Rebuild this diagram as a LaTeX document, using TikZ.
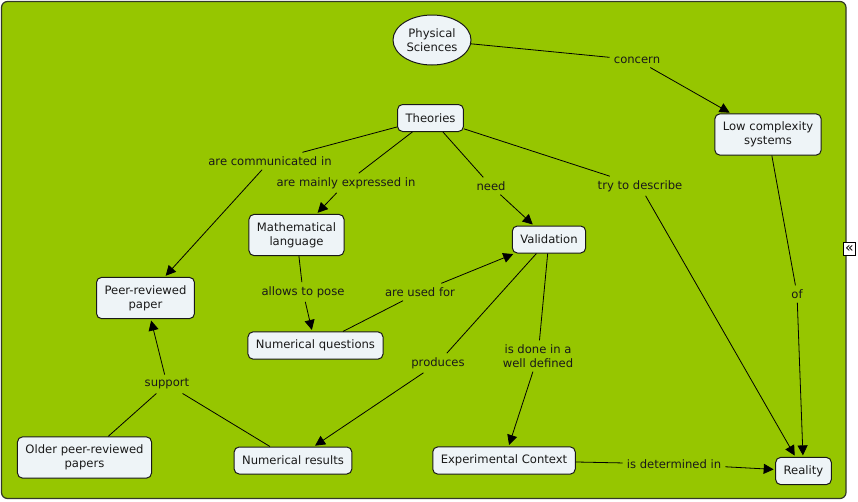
\documentclass[tikz,border=0pt]{standalone}
\usepackage{fontspec}
\setmainfont{DejaVu Sans}
\usetikzlibrary{arrows.meta,shapes.geometric}
\definecolor{mapgreen}{RGB}{150,198,0}
\definecolor{conceptfill}{RGB}{238,244,247}
\definecolor{framegray}{RGB}{50,56,40}
\newcommand{\mapfont}{\fontsize{11.6}{14}\selectfont}

\begin{document}
\begin{tikzpicture}[x=1pt,y=-1pt,
    concept/.style={draw=black!90,line width=1pt,fill=conceptfill,rounded corners=5pt,align=center,
      inner xsep=8pt,inner ysep=8pt,minimum height=27pt,text=black!90,font=\mapfont},
    linkphrase/.style={align=center,inner sep=4pt,text=black!90,font=\mapfont},
    link/.style={draw=black,line width=0.8pt},
    linkto/.style={link,shorten >=1.5pt,-{Triangle[length=10pt,width=10pt]}}]
  \fill[white] (0,0) rectangle (858,501);
  \useasboundingbox (0,0) rectangle (858,501);
  \draw[fill=mapgreen,draw=framegray,line width=1.2pt,rounded corners=6pt] (1.5,1.5) rectangle (846,498.5);

  % concepts
  \node[concept,ellipse,rounded corners=0pt,inner sep=0pt,minimum width=78pt,minimum height=50pt] (physci) at (432,40) {Physical\\Sciences};
  \node[concept] (theories) at (430.5,118) {Theories};
  \node[concept] (lowcomp) at (768,134.5) {Low complexity\\systems};
  \node[concept] (mathlang) at (296.5,235) {Mathematical\\language};
  \node[concept] (valid) at (549,239.5) {Validation};
  \node[concept] (peer) at (145.5,298) {Peer-reviewed\\paper};
  \node[concept] (numq) at (315.5,345.5) {Numerical questions};
  \node[concept] (older) at (84.5,457.5) {Older peer-reviewed\\papers};
  \node[concept] (numres) at (293,460.5) {Numerical results};
  \node[concept] (expctx) at (504,460.5) {Experimental Context};
  \node[concept] (reality) at (803.5,471) {Reality};

  % linking phrases
  \node[linkphrase] (concern) at (637,60) {concern};
  \node[linkphrase] (communicated) at (270,161) {are communicated in};
  \node[linkphrase] (expressed) at (346,183) {are mainly expressed in};
  \node[linkphrase] (need) at (491,186) {need};
  \node[linkphrase] (describe) at (640,186) {try to describe};
  \node[linkphrase] (of) at (797,294) {of};
  \node[linkphrase] (pose) at (303,292) {allows to pose};
  \node[linkphrase] (usedfor) at (420,292) {are used for};
  \node[linkphrase] (produces) at (438,363) {produces};
  \node[linkphrase] (donein) at (538,356) {is done in a\\well defined};
  \node[linkphrase] (support) at (167,384) {support};
  \node[linkphrase] (determined) at (674,464) {is determined in};

  % connectors
  \draw[link] (physci) -- (concern);
  \draw[linkto] (concern) -- (lowcomp);
  \draw[link] (theories) -- (communicated);
  \draw[linkto] (communicated) -- (peer);
  \draw[link] (theories) -- (expressed);
  \draw[linkto] (expressed) -- (mathlang);
  \draw[link] (theories) -- (need);
  \draw[linkto] (need) -- (valid);
  \draw[link] (theories) -- (describe);
  \draw[linkto] (describe) -- (reality);
  \draw[link] (lowcomp) -- (of);
  \draw[linkto] (of) -- (reality);
  \draw[link] (mathlang) -- (pose);
  \draw[linkto] (pose) -- (numq);
  \draw[link] (numq) -- (usedfor);
  \draw[linkto] (usedfor) -- (valid);
  \draw[link] (valid) -- (produces);
  \draw[linkto] (produces) -- (numres);
  \draw[link] (valid) -- (donein);
  \draw[linkto] (donein) -- (expctx);
  \draw[link] (older) -- (support);
  \draw[link] (numres) -- (support);
  \draw[linkto] (support) -- (peer);
  \draw[link] (expctx) -- (determined);
  \draw[linkto] (determined) -- (reality);

  % collapse button
  \node[draw=black,line width=1pt,fill=white,inner sep=0pt,minimum width=12pt,minimum height=13pt,
    font=\fontsize{14}{14}\selectfont] (collapse) at (849.5,249) {«};
\end{tikzpicture}
\end{document}
